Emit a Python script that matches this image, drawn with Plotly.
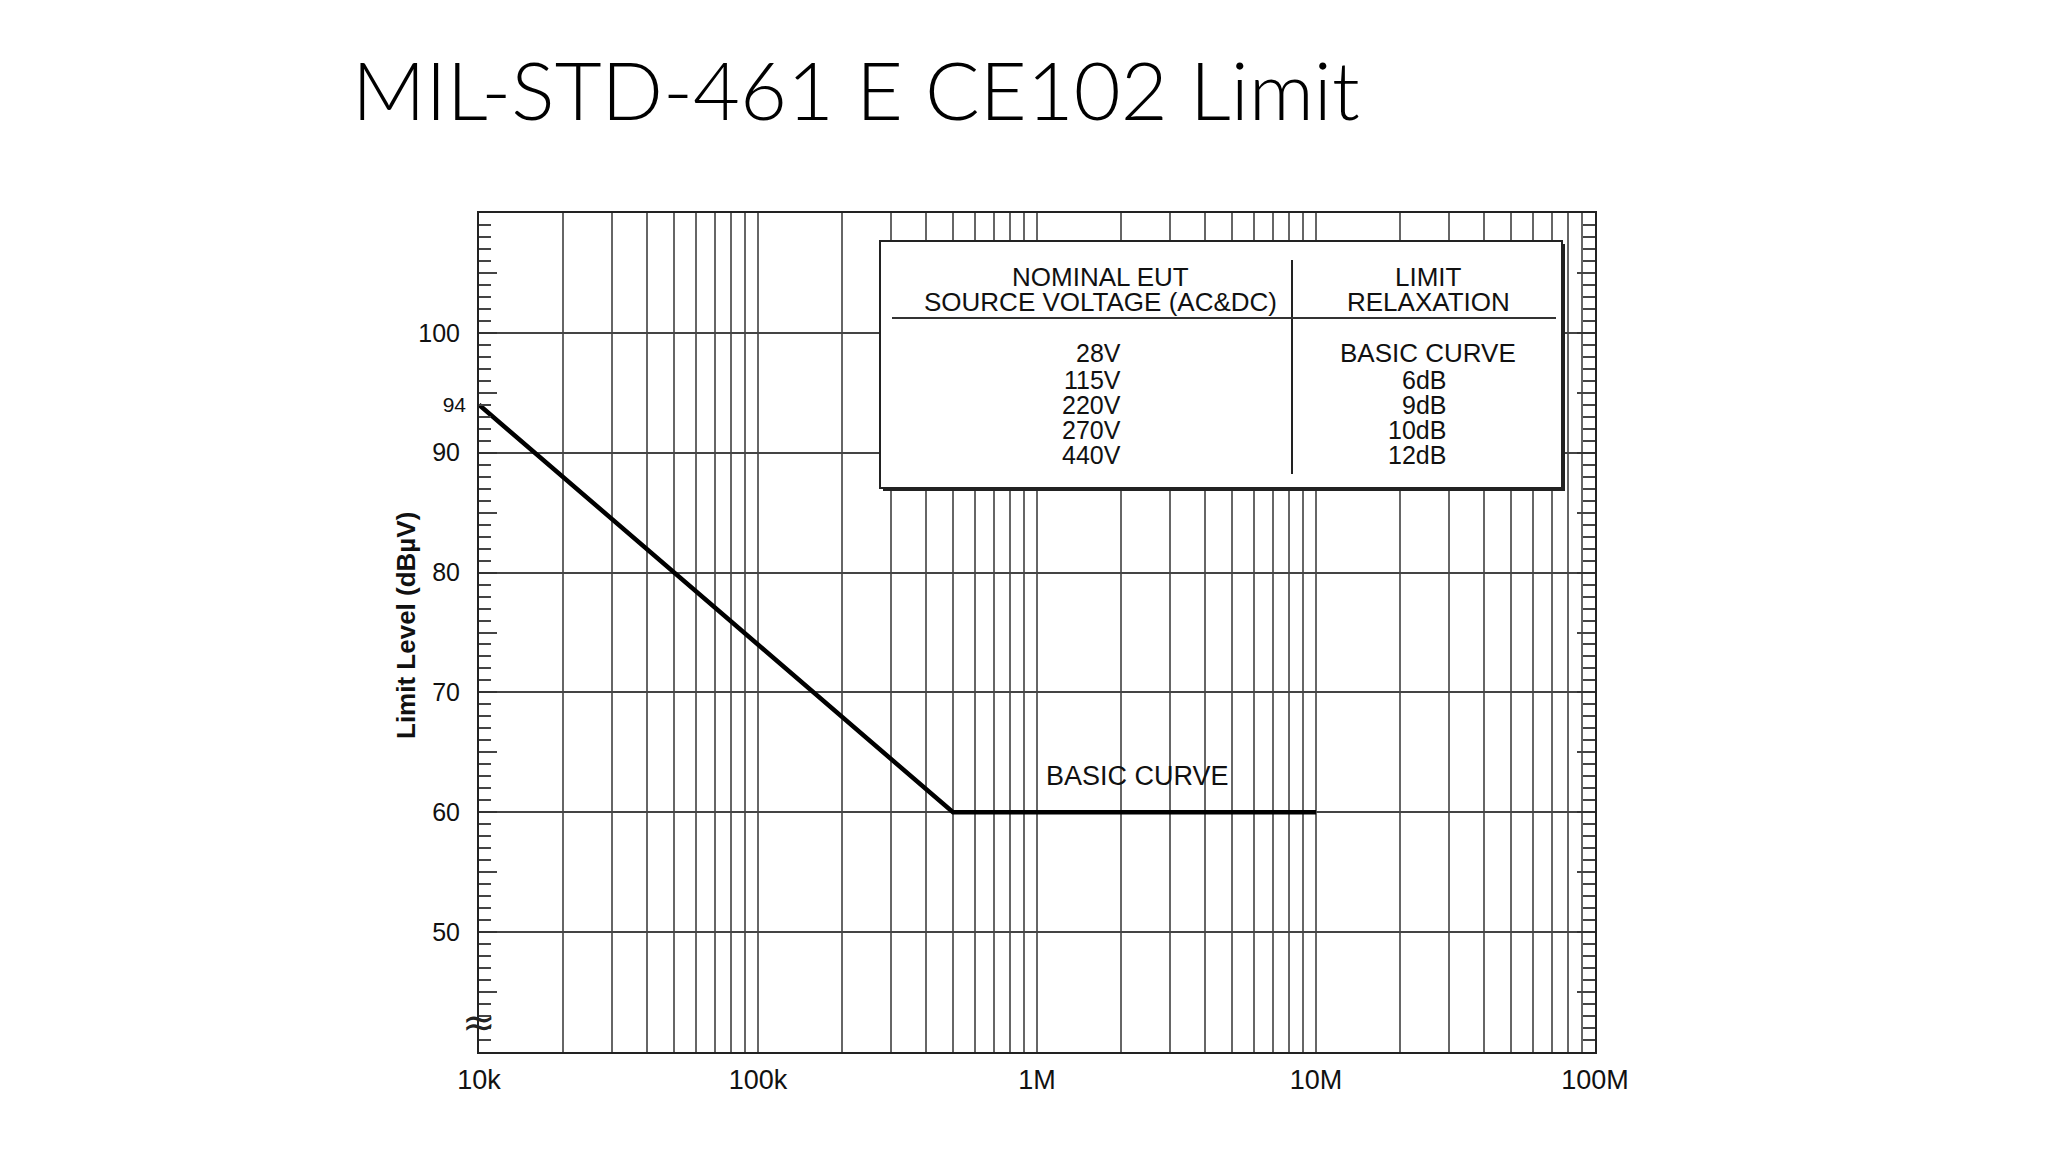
import numpy as np
import plotly.graph_objects as go

# Basic curve of the CE102 limit
freq_hz = [1e4, 5e5, 1e7]
limit_db = [94, 60, 60]

# Relaxation table
voltages = ["28V", "115V", "220V", "270V", "440V"]
relaxations = ["BASIC CURVE", "6dB", "9dB", "10dB", "12dB"]

decades = [1e4, 1e5, 1e6, 1e7, 1e8]
decade_labels = ["10k", "100k", "1M", "10M", "100M"]
y_major = [50, 60, 70, 80, 90, 100]

W, H = 2048, 1152
OFF = 8                               # page margin of the browser
L, R, T, B = 479, 1595, 213, 1052     # plot area, screenshot pixels


def px(x):
    return (x - L) / (R - L)


def py(y):
    return (B - y) / (B - T)


# all the 1..9 gridlines on the log axis, labels only on decades
x_grid = [k * d for d in decades[:-1] for k in range(1, 10)] + [decades[-1]]
x_text = [decade_labels[decades.index(v)] if v in decades else "" for v in x_grid]

ARIAL = "Liberation Sans"

fig = go.Figure()

fig.add_trace(go.Scatter(
    x=freq_hz, y=limit_db,
    mode="lines",
    line=dict(color="black", width=4.5),
    showlegend=False,
    hoverinfo="skip",
))

fig.update_layout(
    width=W, height=H,
    paper_bgcolor="white", plot_bgcolor="white",
    margin=dict(l=L - OFF, r=W - R + OFF, t=T - OFF, b=H - B + OFF, autoexpand=False),
    title=dict(
        text="MIL-STD-461 E CE102 Limit",
        font=dict(family="Lato", size=81, color="black", weight=300),
        xref="container", yref="container",
        x=(352 - OFF) / W, xanchor="left",
        y=1 - (92 - OFF) / H, yanchor="middle",
    ),
    xaxis=dict(
        type="log", range=[4, 8],
        tickvals=x_grid, ticktext=x_text,
        ticks="", showgrid=True, gridcolor="#666", gridwidth=2,
        tickfont=dict(family=ARIAL, size=27, color="#111"),
        ticklabelstandoff=3,
        showline=True, linecolor="#222", linewidth=2, mirror=True,
        zeroline=False,
    ),
    yaxis=dict(
        range=[40, 110],
        tickvals=y_major, ticktext=[str(v) for v in y_major],
        ticks="inside", ticklen=18, tickcolor="#333", tickwidth=2,
        minor=dict(dtick=1, ticks="inside", ticklen=12, tickcolor="#444",
                   tickwidth=2, showgrid=False),
        showgrid=True, gridcolor="#444", gridwidth=1.6,
        tickfont=dict(family=ARIAL, size=25, color="#111"),
        ticklabelstandoff=12,
        showline=True, linecolor="#222", linewidth=2, mirror="ticks",
        zeroline=False,
    ),
    # longer ticks every 5 dB
    yaxis2=dict(
        overlaying="y", range=[40, 110],
        tickvals=[45, 55, 65, 75, 85, 95, 105],
        ticks="inside", ticklen=18, tickcolor="#444", tickwidth=2,
        showticklabels=False, showgrid=False, zeroline=False,
        showline=False, mirror="ticks", anchor="x",
    ),
    # the odd 94 label
    yaxis3=dict(
        overlaying="y", range=[40, 110],
        tickvals=[94], ticktext=["94"], ticks="",
        tickfont=dict(family=ARIAL, size=21, color="#111"),
        ticklabelstandoff=12,
        showgrid=False, zeroline=False, showline=False, anchor="x",
    ),
)

# dummy traces so the extra axes get drawn
for ax in ["y2", "y3"]:
    fig.add_trace(go.Scatter(x=[None], y=[None], yaxis=ax, showlegend=False,
                             hoverinfo="skip"))

# y axis title, sits a bit above the middle of the plot
fig.add_annotation(x=px(406), y=py(626), xref="paper", yref="paper",
                   text="<b>Limit Level (dBµV)</b>", textangle=-90,
                   showarrow=False, xanchor="center", yanchor="middle",
                   font=dict(family=ARIAL, size=26, color="#111"))

# curve label
fig.add_annotation(x=np.log10(2.3e6), y=63, text="BASIC CURVE", showarrow=False,
                   font=dict(family=ARIAL, size=27, color="#111"))

# axis break symbol
fig.add_annotation(x=0, y=py(1022), xref="paper", yref="paper", text="≈",
                   showarrow=False, xanchor="center", yanchor="middle",
                   font=dict(family="DejaVu Sans", size=40, color="#222"))

# table box with a drop shadow
fig.add_shape(type="rect", xref="paper", yref="paper",
              x0=px(883), x1=px(1565), y0=py(244), y1=py(491),
              fillcolor="#222", line=dict(width=0), layer="above")
fig.add_shape(type="rect", xref="paper", yref="paper",
              x0=px(880), x1=px(1562), y0=py(241), y1=py(488),
              fillcolor="white", line=dict(color="#222", width=2), layer="above")
fig.add_shape(type="line", xref="paper", yref="paper",
              x0=px(1292), x1=px(1292), y0=py(260), y1=py(474),
              line=dict(color="#222", width=2), layer="above")
fig.add_shape(type="line", xref="paper", yref="paper",
              x0=px(892), x1=px(1556), y0=py(318), y1=py(318),
              line=dict(color="#333", width=2), layer="above")

head_font = dict(family=ARIAL, size=26, color="#111")
cell_font = dict(family=ARIAL, size=25, color="#111")


def txt(x, y, s, font, xanchor="center"):
    fig.add_annotation(x=px(x), y=py(y), xref="paper", yref="paper", text=s,
                       showarrow=False, xanchor=xanchor, yanchor="middle",
                       font=font)


txt(1100, 277, "NOMINAL EUT", head_font)
txt(1100, 302, "SOURCE VOLTAGE (AC&DC)", head_font)
txt(1428, 277, "LIMIT", head_font)
txt(1428, 302, "RELAXATION", head_font)

row_y = [353, 380, 405, 430, 455]
for i, (v, r) in enumerate(zip(voltages, relaxations)):
    txt(1123, row_y[i], v, cell_font, xanchor="right")
    if i == 0:
        txt(1428, row_y[i], r, head_font)
    else:
        txt(1448, row_y[i], r, cell_font, xanchor="right")

fig.write_html("out.html")
